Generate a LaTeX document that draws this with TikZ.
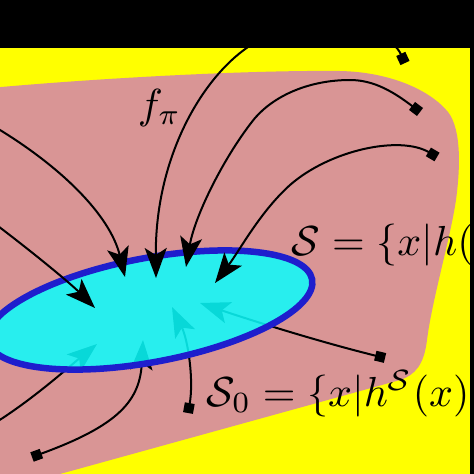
\documentclass[tikz,border=0pt]{standalone}
\usetikzlibrary{arrows.meta}
\definecolor{bgyellow}{RGB}{255,255,0}
\definecolor{blobpink}{RGB}{217,149,149}
\definecolor{setcyan}{RGB}{10,254,254}
\definecolor{setblue}{RGB}{30,30,205}
\begin{document}
\begin{tikzpicture}[x=1pt,y=-1pt,
  flow/.style={line width=2pt,
    {Square[length=10pt,width=10pt]}-{Stealth[length=30pt,width=22pt,inset=7pt]}},
  edgeflow/.style={line width=2pt,-{Stealth[length=30pt,width=22pt,inset=7pt]}},
  lbl/.style={anchor=base west, inner sep=0pt, scale=4.2}]
\useasboundingbox (0,0) rectangle (474,474);
\clip (0,0) rectangle (474,474);
% background
\fill[bgyellow] (0,0) rectangle (474,474);
% pink region
\fill[blobpink] (-10,88) .. controls (100,78) and (250,70) .. (340,71)
  .. controls (390,72) and (430,90) .. (448,112)
  .. controls (462,130) and (460,170) .. (456,200)
  .. controls (450,240) and (432,300) .. (427,340)
  .. controls (424,365) and (415,375) .. (400,380)
  -- (60,474) -- (-10,490) -- cycle;
% coordinates
\coordinate (sA) at (-10,124);  \coordinate (tA) at (125,277);
\coordinate (sB) at (-10,220);  \coordinate (tB) at (95,308);
\coordinate (sC) at (405,63);   \coordinate (mC) at (248,47);  \coordinate (tC) at (156,278);
\coordinate (sD) at (420,112);  \coordinate (tD) at (186,267);
\coordinate (sE) at (437,157);  \coordinate (tE) at (215,283);
\coordinate (sF) at (385,358);  \coordinate (tF) at (200,303);
\coordinate (sG) at (188,413);  \coordinate (tG) at (172,307);
\coordinate (sH) at (32,457);   \coordinate (tH) at (143,340);
\coordinate (sI) at (-10,426);  \coordinate (tI) at (97,344);
% arrows under the set
\draw[flow] (sF) .. controls (320,342) and (250,320) .. (tF);
\draw[flow] (sG) .. controls (194,380) and (188,340) .. (tG);
\draw[flow] (sH) .. controls (120,425) and (140,400) .. (tH);
\draw[edgeflow] (sI) .. controls (30,402) and (70,366) .. (tI);
% the set
\path[fill=setcyan, fill opacity=0.85, draw=setblue, line width=6.5pt,
  rotate around={10.7:(150,310)}] (150,310) ellipse [x radius=165pt, y radius=52pt];
% arrows above the set
\draw[edgeflow] (sA) .. controls (60,165) and (110,215) .. (tA);
\draw[edgeflow] (sB) .. controls (30,250) and (70,283) .. (tB);
\draw[flow] (sC) .. controls (385,20) and (300,15) .. (mC)
  .. controls (200,80) and (155,160) .. (tC);
\draw[flow] (sD) .. controls (395,93) and (375,80) .. (350,80)
  .. controls (310,80) and (275,95) .. (255,118)
  .. controls (225,155) and (195,215) .. (tD);
\draw[flow] (sE) .. controls (400,135) and (330,150) .. (290,185)
  .. controls (260,212) and (240,250) .. (tE);
% labels
\node[lbl] (fpi) at (137,118) {$f_\pi$};
\node[lbl] (setS) at (291,255) {$\mathcal{S}=\{x|h(x)$};
\node[lbl] (setS0) at (206,406) {$\mathcal{S}_0=\{x|h^{\mathcal{S}}(x)$};
% frame bands
\fill[black] (0,0) rectangle (474,47.5);
\fill[black] (470,0) rectangle (474,474);
\end{tikzpicture}
\end{document}
